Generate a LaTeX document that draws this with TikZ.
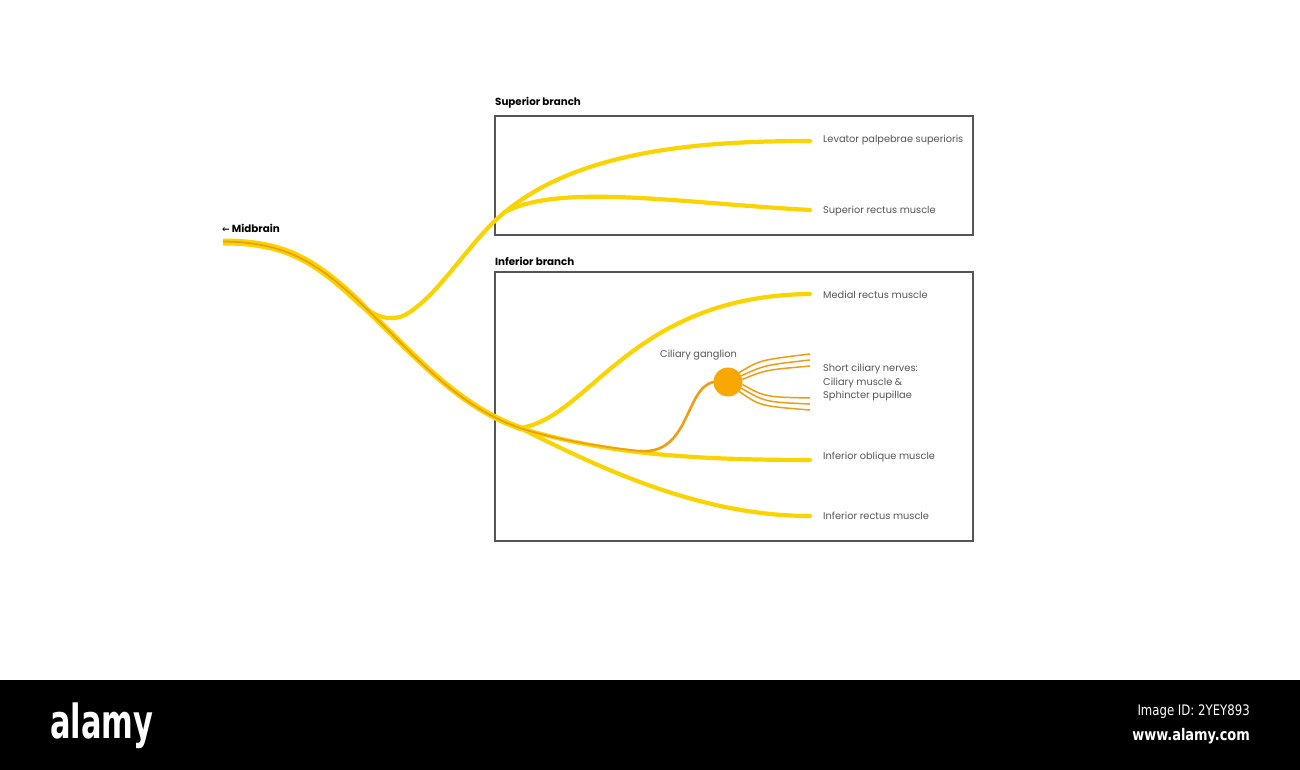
\documentclass[tikz,border=0pt]{standalone}
\usepackage{fontspec}
\setmainfont{Poppins}
\newfontfamily\wmfont{DejaVu Sans Condensed}
\newfontfamily\symfont{DejaVu Sans}
\definecolor{nerve}{RGB}{250,212,0}
\definecolor{para}{RGB}{238,158,20}
\definecolor{gang}{RGB}{248,168,0}
\definecolor{boxline}{RGB}{85,85,85}
\definecolor{labelgray}{RGB}{85,85,85}
\tikzset{
  strand/.style={draw=nerve, line width=4.2pt, line cap=round},
  parafiber/.style={draw=para, line width=1.8pt, line cap=round},
  shortnerve/.style={draw=para, line width=1.5pt},
  branchbox/.style={draw=boxline, line width=1.2pt},
  musclelabel/.style={anchor=west, inner sep=0pt, text=labelgray, font=\fontsize{9.8}{13.5}\selectfont, align=left},
  title/.style={anchor=south west, inner sep=0pt, font=\fontsize{10.3}{12}\selectfont\bfseries},
}
\begin{document}
\begin{tikzpicture}[x=1pt,y=-1pt]
\useasboundingbox (0,0) rectangle (1300,770);
\fill[white] (0,0) rectangle (1300,680);
% boxes
\draw[branchbox] (495,116) rectangle (973,235);
\draw[branchbox] (495,272) rectangle (973,541);
\node[title] (supt) at (495,108) {Superior branch};
\node[title] (inft) at (495,266) {Inferior branch};
\node[title, anchor=west] (mbl) at (222,228) {{\symfont\fontsize{9}{10}\selectfont ←} Midbrain};
% key coordinates
\coordinate (mb) at (223,242);
\coordinate (t) at (362,305);
\coordinate (ss) at (505,212);
\coordinate (is) at (520,428);
\coordinate (cb) at (640,451);
\coordinate (lev) at (810,141);
\coordinate (sr) at (810,210);
\coordinate (mr) at (810,294);
\coordinate (io) at (810,460);
\coordinate (ir) at (810,516);
% superior strand off the trunk
\draw[strand] (t) .. controls (375,317) and (390,322) .. (405,315)
   .. controls (440,295) and (470,240) .. (ss);
% trunk and inferior strand
\draw[strand, line width=7pt, line cap=butt] (mb) .. controls (285,242) and (315,260) .. (t);
\draw[strand, line width=6pt] (t) .. controls (410,350) and (455,405) .. (is);
% superior branch
\draw[strand] (ss) .. controls (580,150) and (700,141) .. (lev);
\draw[strand] (ss) .. controls (560,183) and (680,203) .. (sr);
% inferior branch
\draw[strand] (is) .. controls (590,418) and (630,296) .. (mr);
\draw[strand] (is) .. controls (600,452) and (680,460) .. (io);
\draw[strand] (is) .. controls (600,468) and (700,516) .. (ir);
% ganglion
\node[circle, fill=gang, minimum size=29pt, inner sep=0pt] (g) at (728,382) {};
\draw[parafiber, line cap=butt] ([yshift=0.6pt]mb) .. controls (285,242.6) and (315,260.6) .. ([yshift=0.6pt]t)
   .. controls (410,350.6) and (455,405.6) .. (is)
   .. controls (560,441) and (610,448) .. (cb);
\draw[parafiber, line width=2.6pt] (cb) .. controls (690,455) and (685,388) .. (g.west);
% short ciliary nerves
\draw[shortnerve] (g.40) .. controls (760,360) .. (810,354);
\draw[shortnerve] (g.25) .. controls (765,365) .. (810,360);
\draw[shortnerve] (g.10) .. controls (765,370) .. (810,366);
\draw[shortnerve] (g.-10) .. controls (765,397) .. (810,398);
\draw[shortnerve] (g.-25) .. controls (765,402) .. (810,404);
\draw[shortnerve] (g.-40) .. controls (760,406) .. (810,410);
% labels
\node[musclelabel] (levl) at (823,140) {Levator palpebrae superioris};
\node[musclelabel] (srl) at (823,211) {Superior rectus muscle};
\node[musclelabel] (mrl) at (823,295) {Medial rectus muscle};
\node[musclelabel] (scl) at (823,383) {Short ciliary nerves:\\Ciliary muscle \&\\Sphincter pupillae};
\node[musclelabel] (iol) at (823,457) {Inferior oblique muscle};
\node[musclelabel] (irl) at (823,516) {Inferior rectus muscle};
\node[musclelabel] (cgl) at (660,355) {Ciliary ganglion};
% footer band
\fill[black] (0,680) rectangle (1300,770);
\node[anchor=west, inner sep=0pt, text=white, font=\wmfont\bfseries\fontsize{47}{49}\selectfont] (alamy) at (50,726) {\scalebox{0.72}[1]{alamy}};
\node[anchor=east, inner sep=0pt, text=white, font=\wmfont\fontsize{14.5}{16}\selectfont] (imgid) at (1250,712) {\scalebox{0.9}[1]{Image ID: 2YEY893}};
\node[anchor=east, inner sep=0pt, text=white, font=\wmfont\bfseries\fontsize{16}{18}\selectfont] (www) at (1250,736) {\scalebox{0.9}[1]{www.alamy.com}};
\end{tikzpicture}
\end{document}
